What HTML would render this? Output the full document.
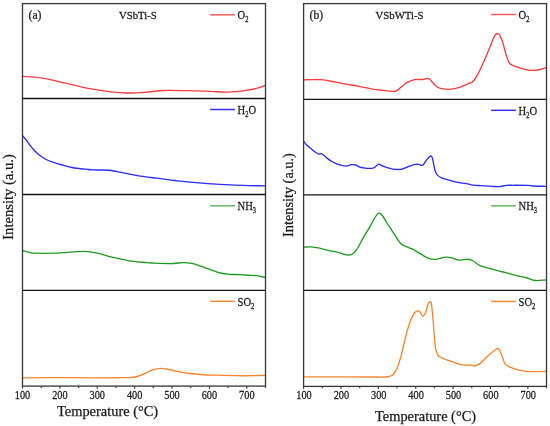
<!DOCTYPE html><html><head><meta charset="utf-8"><style>html,body{margin:0;padding:0;background:#fff;width:550px;height:426px;overflow:hidden}svg{display:block}text{font-family:"Liberation Serif","Times New Roman",serif;fill:#1a1a1a;stroke:#1a1a1a;stroke-width:0.25px}</style></head><body>
<svg width="550" height="426" viewBox="0 0 550 426">
<rect width="550" height="426" fill="#fff"/>
<path d="M22.30 76.40 C25.70 76.70 35.50 77.07 42.70 78.20 C49.90 79.33 57.92 81.50 65.50 83.20 C73.08 84.90 80.63 86.97 88.20 88.40 C95.77 89.83 104.47 91.03 110.90 91.80 C117.33 92.57 121.12 92.92 126.80 93.00 C132.48 93.08 138.87 92.72 145.00 92.30 C151.13 91.88 156.55 90.77 163.60 90.50 C170.65 90.23 179.42 90.55 187.30 90.70 C195.18 90.85 204.20 91.17 210.90 91.40 C217.60 91.63 221.58 92.28 227.50 92.10 C233.42 91.92 241.28 91.00 246.40 90.30 C251.52 89.60 255.13 88.70 258.20 87.90 C261.27 87.10 263.70 85.90 264.80 85.50" fill="none" stroke="#ff3c3c" stroke-width="1.35" stroke-linejoin="round" stroke-linecap="round"/>
<path d="M22.70 136.00 C23.33 136.73 25.13 138.67 26.50 140.40 C27.87 142.13 29.62 144.77 30.90 146.40 C32.18 148.03 33.12 149.03 34.20 150.20 C35.28 151.37 36.13 152.32 37.40 153.40 C38.67 154.48 40.15 155.60 41.80 156.70 C43.45 157.80 45.48 159.08 47.30 160.00 C49.12 160.92 50.88 161.57 52.70 162.20 C54.52 162.83 56.38 163.27 58.20 163.80 C60.02 164.33 61.78 164.88 63.60 165.40 C65.42 165.92 67.28 166.47 69.10 166.90 C70.92 167.33 72.68 167.70 74.50 168.00 C76.32 168.30 78.08 168.50 80.00 168.70 C81.92 168.90 83.80 169.00 86.00 169.20 C88.20 169.40 90.48 169.77 93.20 169.90 C95.92 170.03 99.27 169.90 102.30 170.00 C105.33 170.10 108.37 170.12 111.40 170.50 C114.43 170.88 117.48 171.70 120.50 172.30 C123.52 172.90 126.48 173.50 129.50 174.10 C132.52 174.70 135.57 175.38 138.60 175.90 C141.63 176.42 144.67 176.82 147.70 177.20 C150.73 177.58 153.77 177.85 156.80 178.20 C159.83 178.55 162.87 178.92 165.90 179.30 C168.93 179.68 171.43 180.07 175.00 180.50 C178.57 180.93 181.32 181.35 187.30 181.90 C193.28 182.45 203.02 183.25 210.90 183.80 C218.78 184.35 225.62 184.85 234.60 185.20 C243.58 185.55 259.77 185.78 264.80 185.90" fill="none" stroke="#2b2bff" stroke-width="1.35" stroke-linejoin="round" stroke-linecap="round"/>
<path d="M22.70 250.50 C23.77 250.80 26.90 251.85 29.10 252.30 C31.30 252.75 31.73 253.05 35.90 253.20 C40.07 253.35 49.17 253.28 54.10 253.20 C59.03 253.12 61.72 252.97 65.50 252.70 C69.28 252.43 73.02 251.78 76.80 251.60 C80.58 251.42 84.42 251.27 88.20 251.60 C91.98 251.93 95.72 252.73 99.50 253.60 C103.28 254.47 107.10 255.85 110.90 256.80 C114.70 257.75 118.52 258.53 122.30 259.30 C126.08 260.07 129.82 260.87 133.60 261.40 C137.38 261.93 141.97 262.23 145.00 262.50 C148.03 262.77 147.52 262.82 151.80 263.00 C156.08 263.18 165.57 263.67 170.70 263.60 C175.83 263.53 179.05 262.65 182.60 262.60 C186.15 262.55 188.85 262.67 192.00 263.30 C195.15 263.93 198.35 265.30 201.50 266.40 C204.65 267.50 207.75 268.80 210.90 269.90 C214.05 271.00 217.25 272.27 220.40 273.00 C223.55 273.73 226.65 274.03 229.80 274.30 C232.95 274.57 235.93 274.43 239.30 274.60 C242.67 274.77 247.05 275.12 250.00 275.30 C252.95 275.48 254.53 275.35 257.00 275.70 C259.47 276.05 263.50 277.12 264.80 277.40" fill="none" stroke="#1f9a1f" stroke-width="1.35" stroke-linejoin="round" stroke-linecap="round"/>
<path d="M22.70 377.80 C29.92 377.77 53.12 377.60 66.00 377.60 C78.88 377.60 91.00 377.78 100.00 377.80 C109.00 377.82 114.73 377.75 120.00 377.70 C125.27 377.65 128.45 377.78 131.60 377.50 C134.75 377.22 136.47 376.78 138.90 376.00 C141.33 375.22 143.77 373.87 146.20 372.80 C148.63 371.73 151.08 370.33 153.50 369.60 C155.92 368.87 158.53 368.50 160.70 368.40 C162.87 368.30 164.32 368.63 166.50 369.00 C168.68 369.37 171.37 370.07 173.80 370.60 C176.23 371.13 178.43 371.72 181.10 372.20 C183.77 372.68 186.65 373.12 189.80 373.50 C192.95 373.88 195.73 374.22 200.00 374.50 C204.27 374.78 208.28 375.00 215.40 375.20 C222.52 375.40 234.47 375.67 242.70 375.70 C250.93 375.73 261.12 375.45 264.80 375.40" fill="none" stroke="#f8862f" stroke-width="1.35" stroke-linejoin="round" stroke-linecap="round"/>
<path d="M304.30 79.80 C305.55 79.77 308.58 79.60 311.80 79.60 C315.02 79.60 319.65 79.37 323.60 79.80 C327.55 80.23 331.55 81.45 335.50 82.20 C339.45 82.95 343.37 83.60 347.30 84.30 C351.23 85.00 355.17 85.65 359.10 86.40 C363.03 87.15 366.97 88.13 370.90 88.80 C374.83 89.47 379.15 89.97 382.70 90.40 C386.25 90.83 389.90 91.32 392.20 91.40 C394.50 91.48 394.93 91.68 396.50 90.90 C398.07 90.12 400.10 87.93 401.60 86.70 C403.10 85.47 404.28 84.35 405.50 83.50 C406.72 82.65 407.37 82.25 408.90 81.60 C410.43 80.95 413.10 79.95 414.70 79.60 C416.30 79.25 417.28 79.52 418.50 79.50 C419.72 79.48 420.92 79.58 422.00 79.50 C423.08 79.42 424.15 79.18 425.00 79.00 C425.85 78.82 426.43 78.42 427.10 78.40 C427.77 78.38 428.40 78.60 429.00 78.90 C429.60 79.20 429.68 79.13 430.70 80.20 C431.72 81.27 433.63 83.97 435.10 85.30 C436.57 86.63 437.80 87.55 439.50 88.20 C441.20 88.85 443.37 89.03 445.30 89.20 C447.23 89.37 448.92 89.45 451.10 89.20 C453.28 88.95 455.98 88.43 458.40 87.70 C460.82 86.97 463.67 85.62 465.60 84.80 C467.53 83.98 468.93 83.22 470.00 82.80 C471.07 82.38 471.00 83.18 472.00 82.30 C473.00 81.42 474.83 79.22 476.00 77.50 C477.17 75.78 477.92 74.17 479.00 72.00 C480.08 69.83 481.25 67.25 482.50 64.50 C483.75 61.75 485.08 58.83 486.50 55.50 C487.92 52.17 489.75 47.58 491.00 44.50 C492.25 41.42 493.00 38.83 494.00 37.00 C495.00 35.17 496.00 33.70 497.00 33.50 C498.00 33.30 499.08 34.42 500.00 35.80 C500.92 37.18 501.70 39.43 502.50 41.80 C503.30 44.17 504.02 47.25 504.80 50.00 C505.58 52.75 506.33 56.00 507.20 58.30 C508.07 60.60 508.77 62.50 510.00 63.80 C511.23 65.10 512.67 65.33 514.60 66.10 C516.53 66.87 519.25 67.72 521.60 68.40 C523.95 69.08 526.47 69.88 528.70 70.20 C530.93 70.52 533.12 70.42 535.00 70.30 C536.88 70.18 538.25 69.92 540.00 69.50 C541.75 69.08 544.58 68.08 545.50 67.80" fill="none" stroke="#ff3c3c" stroke-width="1.35" stroke-linejoin="round" stroke-linecap="round"/>
<path d="M303.60 141.20 C304.08 141.80 305.28 143.57 306.50 144.80 C307.72 146.03 309.62 147.50 310.90 148.60 C312.18 149.70 312.93 150.48 314.20 151.40 C315.47 152.32 317.23 153.70 318.50 154.10 C319.77 154.50 320.33 153.08 321.80 153.80 C323.27 154.52 325.48 157.03 327.30 158.40 C329.12 159.77 330.88 161.00 332.70 162.00 C334.52 163.00 336.02 163.72 338.20 164.40 C340.38 165.08 343.62 166.05 345.80 166.10 C347.98 166.15 349.67 164.88 351.30 164.70 C352.93 164.52 354.15 164.58 355.60 165.00 C357.05 165.42 358.35 166.67 360.00 167.20 C361.65 167.73 363.38 168.03 365.50 168.20 C367.62 168.37 371.03 168.45 372.70 168.20 C374.37 167.95 374.53 167.37 375.50 166.70 C376.47 166.03 377.45 164.40 378.50 164.20 C379.55 164.00 380.33 164.93 381.80 165.50 C383.27 166.07 385.48 167.00 387.30 167.60 C389.12 168.20 390.45 168.80 392.70 169.10 C394.95 169.40 398.72 169.60 400.80 169.40 C402.88 169.20 403.75 168.43 405.20 167.90 C406.65 167.37 408.05 166.73 409.50 166.20 C410.95 165.67 412.43 165.02 413.90 164.70 C415.37 164.38 416.85 164.20 418.30 164.30 C419.75 164.40 421.27 165.95 422.60 165.30 C423.93 164.65 425.08 161.90 426.30 160.40 C427.52 158.90 428.93 156.83 429.90 156.30 C430.87 155.77 431.50 156.03 432.10 157.20 C432.70 158.37 433.02 161.08 433.50 163.30 C433.98 165.52 434.38 168.57 435.00 170.50 C435.62 172.43 436.12 173.68 437.20 174.90 C438.28 176.12 439.80 177.02 441.50 177.80 C443.20 178.58 445.45 179.02 447.40 179.60 C449.35 180.18 451.02 180.77 453.20 181.30 C455.38 181.83 458.08 182.37 460.50 182.80 C462.92 183.23 465.63 183.52 467.70 183.90 C469.77 184.28 470.58 184.80 472.90 185.10 C475.22 185.40 478.45 185.48 481.60 185.70 C484.75 185.92 488.88 186.25 491.80 186.40 C494.72 186.55 496.67 186.77 499.10 186.60 C501.53 186.43 503.98 185.62 506.40 185.40 C508.82 185.18 509.97 185.30 513.60 185.30 C517.23 185.30 525.05 185.28 528.20 185.40 C531.35 185.52 529.60 185.85 532.50 186.00 C535.40 186.15 543.42 186.25 545.60 186.30" fill="none" stroke="#2b2bff" stroke-width="1.35" stroke-linejoin="round" stroke-linecap="round"/>
<path d="M304.40 247.10 C305.48 247.07 308.37 246.72 310.90 246.90 C313.43 247.08 316.68 247.62 319.60 248.20 C322.52 248.78 325.12 249.67 328.40 250.40 C331.68 251.13 336.40 251.88 339.30 252.60 C342.20 253.32 343.80 254.35 345.80 254.70 C347.80 255.05 349.48 255.53 351.30 254.70 C353.12 253.87 354.70 252.53 356.70 249.70 C358.70 246.87 361.12 241.52 363.30 237.70 C365.48 233.88 367.80 230.25 369.80 226.80 C371.80 223.35 373.82 219.27 375.30 217.00 C376.78 214.73 377.62 213.57 378.70 213.20 C379.78 212.83 380.37 213.08 381.80 214.80 C383.23 216.52 385.30 220.40 387.30 223.50 C389.30 226.60 391.62 230.12 393.80 233.40 C395.98 236.68 398.22 240.95 400.40 243.20 C402.58 245.45 404.72 245.82 406.90 246.90 C409.08 247.98 411.13 248.48 413.50 249.70 C415.87 250.92 418.60 252.77 421.10 254.20 C423.60 255.63 426.03 257.45 428.50 258.30 C430.97 259.15 433.03 259.50 435.90 259.30 C438.77 259.10 443.05 257.33 445.70 257.10 C448.35 256.87 449.55 257.40 451.80 257.90 C454.05 258.40 456.33 259.87 459.20 260.10 C462.07 260.33 466.53 259.07 469.00 259.30 C471.47 259.53 472.15 260.43 474.00 261.50 C475.85 262.57 477.65 264.58 480.10 265.70 C482.55 266.82 485.63 267.33 488.70 268.20 C491.77 269.07 495.63 270.17 498.50 270.90 C501.37 271.63 503.03 271.87 505.90 272.60 C508.77 273.33 512.42 274.48 515.70 275.30 C518.98 276.12 522.32 276.63 525.60 277.50 C528.88 278.37 532.13 280.08 535.40 280.50 C538.67 280.92 543.57 280.08 545.20 280.00" fill="none" stroke="#1f9a1f" stroke-width="1.35" stroke-linejoin="round" stroke-linecap="round"/>
<path d="M304.30 376.90 C310.25 376.90 329.05 376.88 340.00 376.90 C350.95 376.92 362.42 376.98 370.00 377.00 C377.58 377.02 382.17 377.13 385.50 377.00 C388.83 376.87 388.68 376.65 390.00 376.20 C391.32 375.75 392.28 375.48 393.40 374.30 C394.52 373.12 395.47 372.00 396.70 369.10 C397.93 366.20 399.57 361.17 400.80 356.90 C402.03 352.63 403.00 347.97 404.10 343.50 C405.20 339.03 406.28 334.00 407.40 330.10 C408.52 326.20 409.80 322.70 410.80 320.10 C411.80 317.50 412.40 315.98 413.40 314.50 C414.40 313.02 415.75 311.68 416.80 311.20 C417.85 310.72 418.70 310.78 419.70 311.60 C420.70 312.42 421.80 315.98 422.80 316.10 C423.80 316.22 424.85 314.23 425.70 312.30 C426.55 310.37 427.22 306.28 427.90 304.50 C428.58 302.72 429.23 301.78 429.80 301.60 C430.37 301.42 430.80 300.88 431.30 303.40 C431.80 305.92 432.32 311.50 432.80 316.70 C433.28 321.90 433.72 329.20 434.20 334.60 C434.68 340.00 435.00 345.57 435.70 349.10 C436.40 352.63 437.10 354.20 438.40 355.80 C439.70 357.40 442.23 358.07 443.50 358.70 C444.77 359.33 444.58 359.12 446.00 359.60 C447.42 360.08 449.67 360.80 452.00 361.60 C454.33 362.40 457.67 363.80 460.00 364.40 C462.33 365.00 464.00 365.07 466.00 365.20 C468.00 365.33 470.67 365.07 472.00 365.20 C473.33 365.33 472.67 366.27 474.00 366.00 C475.33 365.73 478.00 365.00 480.00 363.60 C482.00 362.20 484.00 359.47 486.00 357.60 C488.00 355.73 490.17 353.90 492.00 352.40 C493.83 350.90 495.83 349.10 497.00 348.60 C498.17 348.10 498.17 348.17 499.00 349.40 C499.83 350.63 501.00 353.63 502.00 356.00 C503.00 358.37 503.67 361.73 505.00 363.60 C506.33 365.47 507.50 366.07 510.00 367.20 C512.50 368.33 516.67 369.67 520.00 370.40 C523.33 371.13 526.67 371.40 530.00 371.60 C533.33 371.80 537.33 371.63 540.00 371.60 C542.67 371.57 545.00 371.43 546.00 371.40" fill="none" stroke="#f8862f" stroke-width="1.35" stroke-linejoin="round" stroke-linecap="round"/>
<rect x="22.50" y="3.60" width="243.00" height="382.50" fill="none" stroke="#363636" stroke-width="1.30"/>
<line x1="22.50" y1="98.50" x2="265.50" y2="98.50" stroke="#141414" stroke-width="1.35"/>
<line x1="22.50" y1="194.50" x2="265.50" y2="194.50" stroke="#141414" stroke-width="1.35"/>
<line x1="22.50" y1="290.40" x2="265.50" y2="290.40" stroke="#141414" stroke-width="1.35"/>
<line x1="22.50" y1="386.10" x2="22.50" y2="388.70" stroke="#363636" stroke-width="1.1"/>
<text transform="translate(22.50,398.7) scale(0.86,1)" font-size="12.0" text-anchor="middle">100</text>
<line x1="41.19" y1="386.10" x2="41.19" y2="387.90" stroke="#363636" stroke-width="1.1"/>
<line x1="59.88" y1="386.10" x2="59.88" y2="388.70" stroke="#363636" stroke-width="1.1"/>
<text transform="translate(59.88,398.7) scale(0.86,1)" font-size="12.0" text-anchor="middle">200</text>
<line x1="78.58" y1="386.10" x2="78.58" y2="387.90" stroke="#363636" stroke-width="1.1"/>
<line x1="97.27" y1="386.10" x2="97.27" y2="388.70" stroke="#363636" stroke-width="1.1"/>
<text transform="translate(97.27,398.7) scale(0.86,1)" font-size="12.0" text-anchor="middle">300</text>
<line x1="115.96" y1="386.10" x2="115.96" y2="387.90" stroke="#363636" stroke-width="1.1"/>
<line x1="134.65" y1="386.10" x2="134.65" y2="388.70" stroke="#363636" stroke-width="1.1"/>
<text transform="translate(134.65,398.7) scale(0.86,1)" font-size="12.0" text-anchor="middle">400</text>
<line x1="153.35" y1="386.10" x2="153.35" y2="387.90" stroke="#363636" stroke-width="1.1"/>
<line x1="172.04" y1="386.10" x2="172.04" y2="388.70" stroke="#363636" stroke-width="1.1"/>
<text transform="translate(172.04,398.7) scale(0.86,1)" font-size="12.0" text-anchor="middle">500</text>
<line x1="190.73" y1="386.10" x2="190.73" y2="387.90" stroke="#363636" stroke-width="1.1"/>
<line x1="209.42" y1="386.10" x2="209.42" y2="388.70" stroke="#363636" stroke-width="1.1"/>
<text transform="translate(209.42,398.7) scale(0.86,1)" font-size="12.0" text-anchor="middle">600</text>
<line x1="228.12" y1="386.10" x2="228.12" y2="387.90" stroke="#363636" stroke-width="1.1"/>
<line x1="246.81" y1="386.10" x2="246.81" y2="388.70" stroke="#363636" stroke-width="1.1"/>
<text transform="translate(246.81,398.7) scale(0.86,1)" font-size="12.0" text-anchor="middle">700</text>
<line x1="265.50" y1="386.10" x2="265.50" y2="387.90" stroke="#363636" stroke-width="1.1"/>
<text x="107.60" y="416.00" font-size="14.4" text-anchor="middle">Temperature (°C)</text>
<text transform="translate(13.00,197.00) rotate(-90)" font-size="14.6" text-anchor="middle">Intensity (a.u.)</text>
<rect x="303.60" y="3.60" width="242.90" height="382.80" fill="none" stroke="#363636" stroke-width="1.30"/>
<line x1="303.60" y1="99.30" x2="546.50" y2="99.30" stroke="#141414" stroke-width="1.35"/>
<line x1="303.60" y1="194.90" x2="546.50" y2="194.90" stroke="#141414" stroke-width="1.35"/>
<line x1="303.60" y1="290.40" x2="546.50" y2="290.40" stroke="#141414" stroke-width="1.35"/>
<line x1="303.60" y1="386.40" x2="303.60" y2="389.00" stroke="#363636" stroke-width="1.1"/>
<text transform="translate(304.00,398.7) scale(0.86,1)" font-size="12.0" text-anchor="middle">100</text>
<line x1="322.28" y1="386.40" x2="322.28" y2="388.20" stroke="#363636" stroke-width="1.1"/>
<line x1="340.97" y1="386.40" x2="340.97" y2="389.00" stroke="#363636" stroke-width="1.1"/>
<text transform="translate(341.37,398.7) scale(0.86,1)" font-size="12.0" text-anchor="middle">200</text>
<line x1="359.65" y1="386.40" x2="359.65" y2="388.20" stroke="#363636" stroke-width="1.1"/>
<line x1="378.34" y1="386.40" x2="378.34" y2="389.00" stroke="#363636" stroke-width="1.1"/>
<text transform="translate(378.74,398.7) scale(0.86,1)" font-size="12.0" text-anchor="middle">300</text>
<line x1="397.02" y1="386.40" x2="397.02" y2="388.20" stroke="#363636" stroke-width="1.1"/>
<line x1="415.71" y1="386.40" x2="415.71" y2="389.00" stroke="#363636" stroke-width="1.1"/>
<text transform="translate(416.11,398.7) scale(0.86,1)" font-size="12.0" text-anchor="middle">400</text>
<line x1="434.39" y1="386.40" x2="434.39" y2="388.20" stroke="#363636" stroke-width="1.1"/>
<line x1="453.08" y1="386.40" x2="453.08" y2="389.00" stroke="#363636" stroke-width="1.1"/>
<text transform="translate(453.48,398.7) scale(0.86,1)" font-size="12.0" text-anchor="middle">500</text>
<line x1="471.76" y1="386.40" x2="471.76" y2="388.20" stroke="#363636" stroke-width="1.1"/>
<line x1="490.45" y1="386.40" x2="490.45" y2="389.00" stroke="#363636" stroke-width="1.1"/>
<text transform="translate(490.85,398.7) scale(0.86,1)" font-size="12.0" text-anchor="middle">600</text>
<line x1="509.13" y1="386.40" x2="509.13" y2="388.20" stroke="#363636" stroke-width="1.1"/>
<line x1="527.82" y1="386.40" x2="527.82" y2="389.00" stroke="#363636" stroke-width="1.1"/>
<text transform="translate(528.22,398.7) scale(0.86,1)" font-size="12.0" text-anchor="middle">700</text>
<line x1="546.50" y1="386.40" x2="546.50" y2="388.20" stroke="#363636" stroke-width="1.1"/>
<text x="425.55" y="420.80" font-size="14.4" text-anchor="middle">Temperature (°C)</text>
<text transform="translate(293.40,195.10) rotate(-90)" font-size="14.3" text-anchor="middle">Intensity (a.u.)</text>
<text transform="translate(28.5,18.6) scale(0.94,1)" font-size="12.5">(a)</text>
<text transform="translate(137.8,18.5) scale(0.95,1)" font-size="11.3" text-anchor="middle">VSbTi-S</text>
<text transform="translate(309.6,18.6) scale(0.93,1)" font-size="12.5">(b)</text>
<text transform="translate(399.5,18.7) scale(0.95,1)" font-size="11.3" text-anchor="middle">VSbWTi-S</text>
<line x1="210.10" y1="14.80" x2="234.90" y2="14.80" stroke="#ff5a5a" stroke-width="1.5"/>
<text transform="translate(237.50,18.90) scale(0.87,1)" font-size="12.2">O<tspan font-size="7.4" dy="3.0">2</tspan></text>
<line x1="210.10" y1="109.50" x2="234.90" y2="109.50" stroke="#2f2fff" stroke-width="1.5"/>
<text transform="translate(237.50,113.80) scale(0.87,1)" font-size="12.2">H<tspan font-size="7.4" dy="3.0">2</tspan><tspan dy="-3.0">O</tspan></text>
<line x1="210.10" y1="205.80" x2="234.90" y2="205.80" stroke="#62b862" stroke-width="1.5"/>
<text transform="translate(237.50,209.80) scale(0.87,1)" font-size="12.2">NH<tspan font-size="7.4" dy="3.0">3</tspan></text>
<line x1="210.10" y1="301.30" x2="234.90" y2="301.30" stroke="#f68a38" stroke-width="1.5"/>
<text transform="translate(237.50,305.70) scale(0.87,1)" font-size="12.2">SO<tspan font-size="7.4" dy="3.0">2</tspan></text>
<line x1="491.10" y1="14.50" x2="515.90" y2="14.50" stroke="#ff5a5a" stroke-width="1.5"/>
<text transform="translate(518.50,18.90) scale(0.87,1)" font-size="12.2">O<tspan font-size="7.4" dy="3.0">2</tspan></text>
<line x1="491.10" y1="110.30" x2="515.90" y2="110.30" stroke="#2f2fff" stroke-width="1.5"/>
<text transform="translate(518.50,114.60) scale(0.87,1)" font-size="12.2">H<tspan font-size="7.4" dy="3.0">2</tspan><tspan dy="-3.0">O</tspan></text>
<line x1="491.10" y1="205.80" x2="515.90" y2="205.80" stroke="#62b862" stroke-width="1.5"/>
<text transform="translate(518.50,210.20) scale(0.87,1)" font-size="12.2">NH<tspan font-size="7.4" dy="3.0">3</tspan></text>
<line x1="491.10" y1="301.40" x2="515.90" y2="301.40" stroke="#f68a38" stroke-width="1.5"/>
<text transform="translate(518.50,305.70) scale(0.87,1)" font-size="12.2">SO<tspan font-size="7.4" dy="3.0">2</tspan></text>
</svg></body></html>
